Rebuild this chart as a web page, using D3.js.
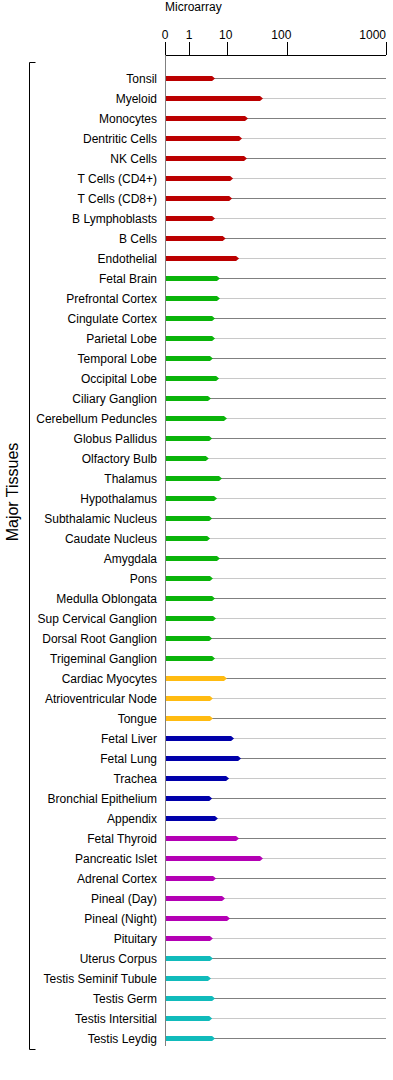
<!DOCTYPE html>
<html>
<head>
<meta charset="utf-8">
<script src="https://cdn.jsdelivr.net/npm/d3@7"></script>
<style>
  body { margin: 0; background: #fff; }
  svg text { font-family: "Liberation Sans", Arial, sans-serif; fill: #000; }
</style>
</head>
<body>
<div id="chart"></div>
<script>
const width = 393;
const height = 1080;

// tissues in drawing order
const tissues = [
  "Tonsil", "Myeloid", "Monocytes", "Dentritic Cells", "NK Cells",
  "T Cells (CD4+)", "T Cells (CD8+)", "B Lymphoblasts", "B Cells", "Endothelial",
  "Fetal Brain", "Prefrontal Cortex", "Cingulate Cortex", "Parietal Lobe", "Temporal Lobe",
  "Occipital Lobe", "Ciliary Ganglion", "Cerebellum Peduncles", "Globus Pallidus", "Olfactory Bulb",
  "Thalamus", "Hypothalamus", "Subthalamic Nucleus", "Caudate Nucleus", "Amygdala",
  "Pons", "Medulla Oblongata", "Sup Cervical Ganglion", "Dorsal Root Ganglion", "Trigeminal Ganglion",
  "Cardiac Myocytes", "Atrioventricular Node", "Tongue",
  "Fetal Liver", "Fetal Lung", "Trachea", "Bronchial Epithelium", "Appendix",
  "Fetal Thyroid", "Pancreatic Islet", "Adrenal Cortex", "Pineal (Day)", "Pineal (Night)", "Pituitary",
  "Uterus Corpus", "Testis Seminif Tubule", "Testis Germ", "Testis Intersitial", "Testis Leydig"
];

const values = [
  5.5, 40.5, 23, 18.3, 22.1,
  12.9, 12.4, 5.5, 9.5, 16.3,
  7.1, 7.1, 5.5, 5.5, 4.9,
  6.8, 4.4, 10.1, 4.7, 3.9,
  7.9, 6.1, 4.7, 4.2, 7.1,
  4.9, 5.5, 5.8, 4.7, 5.5,
  10.1, 4.9, 4.9,
  13.4, 17.6, 11.0, 4.7, 6.4,
  16.3, 40.5, 5.8, 9.2, 11.4, 4.9,
  4.9, 4.4, 5.5, 4.7, 5.5
];

// group of each tissue (index into groupColors)
const groups = [
  0,0,0,0,0,0,0,0,0,0,
  1,1,1,1,1,1,1,1,1,1,1,1,1,1,1,1,1,1,1,1,
  2,2,2,
  3,3,3,3,3,
  4,4,4,4,4,4,
  5,5,5,5,5
];
const groupColors = ["#bb0000", "#0ab40a", "#ffbb11", "#0000aa", "#b400b4", "#11bbbb"];

const tickValues = [0, 1, 10, 100, 1000];
const tickLabels = ["0", "1", "10", "100", "1000"];

const plotLeft = 165, plotRight = 386, axisY = 55, rowH = 20;

// uneven log-like axis, piecewise over log10(v + 1)
const tv = v => Math.log10(v + 1);
const x = d3.scaleLinear()
  .domain(tickValues.map(tv))
  .range([plotLeft, 189, 226.7, 287.3, plotRight]);

const y = d3.scaleBand()
  .domain(tissues)
  .range([axisY + 13, axisY + 13 + tissues.length * rowH]);

const svg = d3.select("#chart").append("svg")
  .attr("width", width)
  .attr("height", height);

// title
svg.append("text")
  .attr("x", plotLeft)
  .attr("y", 11)
  .style("font-size", "12px")
  .text("Microarray");

// top axis
const axis = svg.append("g");
axis.append("line")
  .attr("x1", plotLeft).attr("x2", plotRight)
  .attr("y1", axisY + 0.5).attr("y2", axisY + 0.5)
  .attr("stroke", "#000");
axis.selectAll(".tk").data(tickValues).enter().append("line")
  .attr("x1", d => Math.round(x(tv(d))) + 0.5).attr("x2", d => Math.round(x(tv(d))) + 0.5)
  .attr("y1", axisY - 13).attr("y2", axisY)
  .attr("stroke", "#000");
// labels sit a little off their ticks near the right end
const labelShift = [0, 0, -1, -6, 0];
axis.selectAll(".tl").data(tickValues).enter().append("text")
  .attr("x", (d, i) => x(tv(d)) + labelShift[i])
  .attr("y", 39)
  .attr("text-anchor", (d, i) => i == tickValues.length - 1 ? "end" : "middle")
  .style("font-size", "12px")
  .text((d, i) => tickLabels[i]);

// row lines
svg.selectAll(".row").data(tissues).enter().append("line")
  .attr("x1", plotLeft).attr("x2", plotRight)
  .attr("y1", d => y(d) + rowH / 2 + 0.5)
  .attr("y2", d => y(d) + rowH / 2 + 0.5)
  .attr("stroke", (d, i) => i % 2 == 0 ? "#808080" : "#c8c8c8");

// bars with a small pointed tip
svg.selectAll(".bar").data(tissues).enter().append("path")
  .attr("fill", (d, i) => groupColors[groups[i]])
  .attr("d", (d, i) => {
    const cy = y(d) + rowH / 2 + 0.5;
    const x0 = plotLeft + 1, x1 = x(tv(values[i]));
    return `M${x0},${cy - 2.5}H${x1 - 3}L${x1},${cy}L${x1 - 3},${cy + 2.5}H${x0}Z`;
  });

// left plot border
svg.append("line")
  .attr("x1", plotLeft + 0.5).attr("x2", plotLeft + 0.5)
  .attr("y1", axisY).attr("y2", 1046)
  .attr("stroke", "#808080");

// tissue labels
svg.selectAll(".lab").data(tissues).enter().append("text")
  .attr("x", 157)
  .attr("y", d => y(d) + rowH / 2 + 4.5)
  .attr("text-anchor", "end")
  .style("font-size", "12px")
  .text(d => d);

// bracket
svg.append("path")
  .attr("d", "M35.5,62.5H29.5V1049.5H35.5")
  .attr("fill", "none")
  .attr("stroke", "#000");

svg.append("text")
  .attr("transform", "translate(18,492) rotate(-90)")
  .attr("text-anchor", "middle")
  .style("font-size", "16px")
  .text("Major Tissues");
</script>
</body>
</html>
